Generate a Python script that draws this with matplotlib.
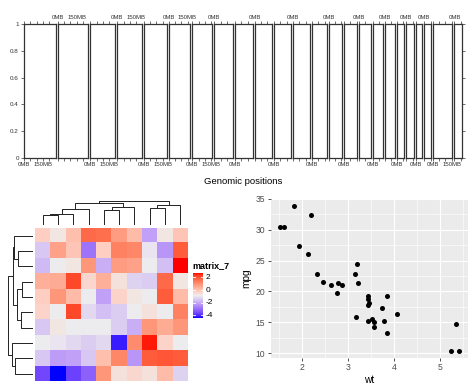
import numpy as np
import matplotlib
matplotlib.use("Agg")
import matplotlib.pyplot as plt
from matplotlib.colors import ListedColormap, Normalize

plt.rcParams['font.family'] = ['Liberation Sans', 'DejaVu Sans']

W, H = 474, 387

# ---- data ----
chrom_len = [249.25, 243.20, 198.02, 191.15, 180.92, 171.12, 159.14, 146.36,
             141.21, 135.53, 135.01, 133.85, 115.17, 107.35, 102.53, 90.35,
             81.20, 78.08, 59.13, 63.03, 48.13, 51.30, 155.27, 59.37]
y_ticks = [0, 0.2, 0.4, 0.6, 0.8, 1]
y_tick_labels = ['0', '0.2', '0.4', '0.6', '0.8', '1']

matrix_7 = np.array([
    [-0.2, -0.7, 0.1, 1.7, 1.6, 0.8, 0.2, -2.1, -0.7, 0.0],
    [-1.5, 0.7, 0.0, -2.9, -0.2, 1.3, 1.2, -1.0, -2.3, 1.9],
    [-1.7, -0.9, -0.7, 0.9, -1.9, 0.8, 0.7, -0.9, -1.6, 2.7],
    [0.4, 0.5, 2.2, -0.4, 0.4, -0.6, -1.3, -1.4, 1.7, -0.7],
    [-0.2, 0.9, 0.2, -0.9, -2.1, -0.3, -0.7, -0.9, 1.9, 0.2],
    [-0.3, -0.9, 2.2, -1.2, -1.6, -1.4, -0.9, -0.6, -0.9, 1.3],
    [-1.5, -0.7, -0.9, -0.9, -0.9, -1.4, -1.9, 0.9, 0.5, 0.9],
    [-0.9, -1.0, -1.2, -1.4, -1.2, -4.2, 1.1, 2.6, -0.3, -0.9],
    [-1.5, -2.2, -2.1, -1.5, 0.1, 1.2, -2.3, 1.9, 2.0, 1.9],
    [-3.6, -4.4, -3.7, -3.2, 0.9, -0.6, -0.4, -0.6, 0.2, -1.3],
])
col_breaks = [-4.4, -0.85, 2.7]
col_colors = ['#0000FF', '#EEEEEE', '#FF0000']
legend_ticks = [2, 0, -2, -4]

# merges in display order: (child_a, child_b, height); leaves are 0..9
col_merges = [(0, 1, 33), (10, 2, 37), (11, 3, 53), (4, 5, 50), (13, 6, 60),
              (12, 14, 70), (7, 8, 55), (16, 9, 65), (15, 17, 78)]
row_merges = [(1, 2, 45), (0, 10, 58), (3, 4, 33), (5, 6, 38), (12, 13, 50),
              (11, 14, 62), (8, 9, 55), (7, 16, 65), (15, 17, 75)]

wt = [2.620, 2.875, 2.320, 3.215, 3.440, 3.460, 3.570, 3.190, 3.150, 3.440,
      3.440, 4.070, 3.730, 3.780, 5.250, 5.424, 5.345, 2.200, 1.615, 1.835,
      2.465, 3.520, 3.435, 3.840, 3.845, 1.935, 2.140, 1.513, 3.170, 2.770,
      3.570, 2.780]
mpg = [21.0, 21.0, 22.8, 21.4, 18.7, 18.1, 14.3, 24.4, 22.8, 19.2, 17.8,
       16.4, 17.3, 15.2, 10.4, 10.4, 14.7, 32.4, 30.4, 33.9, 21.5, 15.5,
       15.2, 13.3, 19.2, 27.3, 26.0, 30.4, 15.8, 19.7, 15.0, 21.4]


def px_axes(fig, x0, y0, x1, y1):
    return fig.add_axes([x0 / W, 1 - y1 / H, (x1 - x0) / W, (y1 - y0) / H])


# LAB colour interpolation like colorRamp2
def to_lab(rgb):
    c = np.where(rgb <= 0.04045, rgb / 12.92, ((rgb + 0.055) / 1.055) ** 2.4)
    M = np.array([[0.4124, 0.3576, 0.1805], [0.2126, 0.7152, 0.0722],
                  [0.0193, 0.1192, 0.9505]])
    xyz = c @ M.T / np.array([0.95047, 1.0, 1.08883])
    f = np.where(xyz > 0.008856, np.cbrt(xyz), 7.787 * xyz + 16 / 116)
    return np.stack([116 * f[..., 1] - 16, 500 * (f[..., 0] - f[..., 1]),
                     200 * (f[..., 1] - f[..., 2])], axis=-1)


def from_lab(lab):
    fy = (lab[..., 0] + 16) / 116
    fx = fy + lab[..., 1] / 500
    fz = fy - lab[..., 2] / 200
    f = np.stack([fx, fy, fz], axis=-1)
    xyz = np.where(f > 0.2069, f ** 3, (f - 16 / 116) / 7.787)
    xyz = xyz * np.array([0.95047, 1.0, 1.08883])
    Mi = np.array([[3.2406, -1.5372, -0.4986], [-0.9689, 1.8758, 0.0415],
                   [0.0557, -0.2040, 1.0570]])
    c = xyz @ Mi.T
    c = np.clip(c, 0, 1)
    rgb = np.where(c <= 0.0031308, 12.92 * c, 1.055 * c ** (1 / 2.4) - 0.055)
    return np.clip(rgb, 0, 1)


def hex_rgb(h):
    return np.array([int(h[i:i + 2], 16) / 255 for i in (1, 3, 5)])


vals = np.linspace(col_breaks[0], col_breaks[-1], 256)
labs = np.array([to_lab(hex_rgb(c)) for c in col_colors])
lab_interp = np.stack([np.interp(vals, col_breaks, labs[:, k]) for k in range(3)], axis=-1)
cmap = ListedColormap(from_lab(lab_interp))
norm = Normalize(col_breaks[0], col_breaks[-1])


def dendro_segments(merges, n):
    pos = {i: i + 0.5 for i in range(n)}
    hgt = {i: 0.0 for i in range(n)}
    segs = []
    for k, (a, b, h) in enumerate(merges):
        segs.append(([pos[a], pos[a], pos[b], pos[b]], [hgt[a], h, h, hgt[b]]))
        pos[n + k] = (pos[a] + pos[b]) / 2
        hgt[n + k] = h
    return segs


fig = plt.figure(figsize=(W / 100, H / 100), dpi=100)

# ---- top: genomic positions ----
edge = '#333333'
gap = 2.0
x_left, x_right = 24, 462
scale = (x_right - x_left - gap * (len(chrom_len) - 1)) / sum(chrom_len)
x = x_left
n_chr = len(chrom_len)
for i, L in enumerate(chrom_len):
    w = L * scale
    ax = px_axes(fig, x, 24, x + w, 158)
    x += w + gap
    ax.set_xlim(0, L)
    ax.set_ylim(0, 1)
    for s in ax.spines.values():
        s.set_color(edge)
        s.set_linewidth(0.9)
    ticks = np.arange(0, L, 50)
    labels = ['%dMB' % t if t in (0, 150) else '' for t in ticks]
    ax.set_xticks(ticks)
    ax.set_xticklabels(labels)
    bottom = (i % 2 == 0)
    ax.tick_params(axis='x', top=True, bottom=True, labeltop=not bottom,
                   labelbottom=bottom, length=2.2, width=0.5, color=edge,
                   labelsize=4.3, labelcolor='#333333', pad=1)
    ax.set_yticks(y_ticks)
    if i == 0:
        ax.set_yticklabels(y_tick_labels)
        ax.tick_params(axis='y', left=True, right=False, length=2.2,
                       width=0.5, color=edge, labelsize=4.5,
                       labelcolor='#333333', pad=1.5)
    elif i == n_chr - 1:
        ax.tick_params(axis='y', left=False, right=True, labelleft=False,
                       length=2.2, width=0.5, color=edge)
    else:
        ax.tick_params(axis='y', left=False, labelleft=False)

fig.text(243 / W, 1 - 181 / H, 'Genomic positions', ha='center', va='center',
         fontsize=6.8, color='black')

# ---- bottom left: heatmap ----
hx0, hx1, hy0, hy1 = 35, 188, 228, 381.5
axh = px_axes(fig, hx0, hy0, hx1, hy1)
axh.imshow(matrix_7, cmap=cmap, norm=norm, extent=(0, 10, 10, 0),
           aspect='auto', interpolation='nearest')
axh.set_axis_off()

axc = px_axes(fig, hx0, 201, hx1, 225.3)
for xs, ys in dendro_segments(col_merges, 10):
    axc.plot(xs, ys, color='#222222', lw=0.7, solid_capstyle='butt')
axc.set_xlim(0, 10)
axc.set_ylim(0, max(m[2] for m in col_merges))
axc.set_axis_off()

axr = px_axes(fig, 8.3, hy0, 33.3, hy1)
for ys, xs in dendro_segments(row_merges, 10):
    axr.plot(xs, ys, color='#222222', lw=0.7, solid_capstyle='butt')
axr.set_ylim(10, 0)
axr.set_xlim(max(m[2] for m in row_merges), 0)
axr.set_axis_off()

# legend
fig.text(192 / W, 1 - 266 / H, 'matrix_7', fontsize=6.5, fontweight='bold',
         ha='left', va='center')
axl = px_axes(fig, 192.7, 273, 202.7, 318)
grad = np.linspace(col_breaks[0], col_breaks[-1], 200).reshape(-1, 1)
axl.imshow(grad, cmap=cmap, norm=norm, origin='lower', aspect='auto',
           extent=(0, 1, col_breaks[0], col_breaks[-1]))
for t in legend_ticks:
    axl.plot([0, 0.22], [t, t], color='white', lw=0.6)
    axl.plot([0.78, 1], [t, t], color='white', lw=0.6)
    axl.text(1.3, t, str(t), fontsize=6, va='center', ha='left',
             transform=axl.transData, clip_on=False)
axl.set_xlim(0, 1)
axl.set_ylim(col_breaks[0], col_breaks[-1])
axl.set_axis_off()

# ---- bottom right: ggplot-like scatter ----
axs = px_axes(fig, 270.7, 198.5, 468.4, 357.8)
axs.set_facecolor('#EBEBEB')
axs.scatter(wt, mpg, s=13, color='black', zorder=3, linewidths=0)
xr = max(wt) - min(wt)
yr = max(mpg) - min(mpg)
axs.set_xlim(min(wt) - 0.05 * xr, max(wt) + 0.05 * xr)
axs.set_ylim(min(mpg) - 0.05 * yr, max(mpg) + 0.05 * yr)
axs.set_xticks([2, 3, 4, 5])
axs.set_yticks([10, 15, 20, 25, 30, 35])
axs.set_xticks([1.5, 2.5, 3.5, 4.5, 5.5], minor=True)
axs.set_yticks([12.5, 17.5, 22.5, 27.5, 32.5], minor=True)
axs.grid(which='major', color='white', lw=0.8)
axs.grid(which='minor', color='white', lw=0.4)
axs.set_axisbelow(True)
for s in axs.spines.values():
    s.set_visible(False)
axs.tick_params(which='major', length=2.5, width=0.6, color='#333333',
                labelsize=6.2, labelcolor='#4D4D4D', pad=1.5)
axs.tick_params(which='minor', length=0)
axs.set_xlabel('wt', fontsize=7.3, labelpad=2)
axs.set_ylabel('mpg', fontsize=7.3, labelpad=3)

fig.savefig('out.png', dpi=100)
